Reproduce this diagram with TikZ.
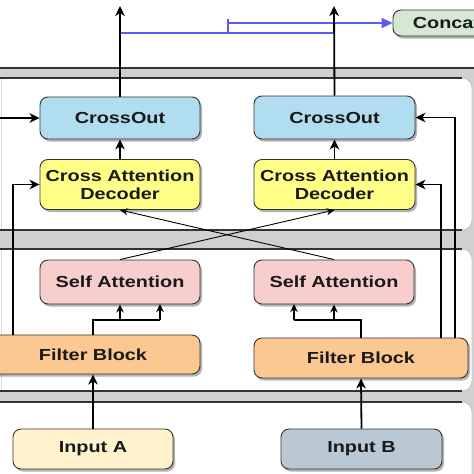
\documentclass[tikz,border=0pt]{standalone}
\usepackage{fontspec}
\setmainfont{Liberation Sans}
\usetikzlibrary{arrows.meta,shadows}
\definecolor{bandgray}{HTML}{D0D0D0}
\definecolor{edge}{HTML}{333333}
\definecolor{blueline}{HTML}{5C5CF0}
\definecolor{cblue}{HTML}{B1DDF0}
\definecolor{cyellow}{HTML}{FFFF88}
\definecolor{cpink}{HTML}{F8CECC}
\definecolor{corange}{HTML}{FCC892}
\definecolor{cinA}{HTML}{FFF2CC}
\definecolor{cinB}{HTML}{BAC8D3}
\definecolor{cgreen}{HTML}{D5E8D4}
\newcommand\wtxt[1]{\scalebox{1.24}[1]{#1}}
\begin{document}
\begin{tikzpicture}[x=1pt,y=-1pt,
  box/.style={draw=edge, line width=0.9pt, rounded corners=8pt, inner sep=0pt,
    font=\fontsize{16}{18}\selectfont\bfseries, align=center, text=black!90,
    drop shadow={shadow xshift=2pt, shadow yshift=-2.5pt, opacity=0.3, fill=black}},
  arr/.style={line width=1.8pt, -{Stealth[length=10pt,width=9.5pt,inset=3pt]}},
  thinarr/.style={line width=1.3pt, -{Stealth[length=8pt,width=7.5pt,inset=2.5pt]}},
  crossarr/.style={line width=0.9pt, -{Stealth[length=8pt,width=7pt,inset=2.5pt]}},
  blue/.style={draw=blueline, line width=2pt},
  panel/.style={fill=white, draw=gray!45, line width=0.8pt, rounded corners=10pt},
  bandline/.style={draw=edge, line width=1.2pt}]
\useasboundingbox (0,0) rectangle (474,474);
\clip (0,0) rectangle (474,474);
% background panels
\fill[bandgray] (-5,68) rectangle (480,480);
\draw[panel] (-12,78) rectangle (472,230);
\draw[panel] (-12,249) rectangle (472,391);
\draw[panel] (-12,402) rectangle (472,500);
\draw[gray!30, line width=1.5pt] (1.5,78) -- (1.5,230) (1.5,249) -- (1.5,391);
\draw[bandline] (-5,68) -- (480,68);
\draw[bandline] (-5,78) -- (462,78);
\draw[bandline] (-5,230) -- (462,230);
\draw[bandline] (-5,249) -- (462,249);
\draw[bandline] (-5,391) -- (462,391);
\draw[bandline] (-5,402) -- (462,402);
% nodes
\node[box, fill=cblue, minimum width=160pt, minimum height=42pt] (co1) at (120,118) {\wtxt{CrossOut}};
\node[box, fill=cblue, minimum width=161pt, minimum height=43pt] (co2) at (334.5,117.5) {\wtxt{CrossOut}};
\node[box, fill=cyellow, minimum width=160pt, minimum height=50pt] (cad1) at (120,184.5) {\wtxt{Cross Attention}\\\wtxt{Decoder}};
\node[box, fill=cyellow, minimum width=161pt, minimum height=50pt] (cad2) at (334.5,184.5) {\wtxt{Cross Attention}\\\wtxt{Decoder}};
\node[box, fill=cpink, minimum width=160pt, minimum height=44pt] (sa1) at (120,282) {\wtxt{Self Attention}};
\node[box, fill=cpink, minimum width=160pt, minimum height=44pt] (sa2) at (334,282) {\wtxt{Self Attention}};
\node[box, fill=corange, minimum width=214pt, minimum height=39pt] (fb1) at (93,354.5) {\wtxt{Filter Block}};
\node[box, fill=corange, minimum width=214pt, minimum height=40pt] (fb2) at (361,358) {\wtxt{Filter Block}};
\node[box, fill=cinA, minimum width=160pt, minimum height=40pt] (ia) at (93,449) {\wtxt{Input A}};
\node[box, fill=cinB, minimum width=161pt, minimum height=40pt] (ib) at (361.5,449) {\wtxt{Input B}};
\node[box, fill=cgreen, minimum width=107pt, minimum height=26pt] (cc) at (446.5,23) {\wtxt{Concat}};
% coordinates
\coordinate (t1) at (120,6);
\coordinate (t2) at (334,6);
\coordinate (b1) at (120,33);
\coordinate (b2) at (334,33);
\coordinate (bm) at (228,33);
\coordinate (bt) at (228,19);
\coordinate (bh) at (228,23);
\coordinate (l0) at (-5,118);
\coordinate (l1) at (13,335);
\coordinate (r1) at (441,338);
\coordinate (r2) at (455,338);
\coordinate (j1) at (93,320);
\coordinate (j1a) at (120,320);
\coordinate (j1b) at (160,320);
\coordinate (s1b) at (160,304);
\coordinate (j2) at (361,320);
\coordinate (j2a) at (334,320);
\coordinate (j2b) at (294,320);
\coordinate (s2b) at (294,304);
% blue concat connector
\draw[blue] (b1) -- (b2);
\draw[blue] (bm) -- (bt);
\draw[blue, -{Triangle[length=11pt,width=10pt]}] (bh) -- (cc.west);
% vertical flow
\draw[arr] (co1.north) -- (t1);
\draw[arr] (co2.north) -- (t2);
\draw[arr] (cad1.north) -- (co1.south);
\draw[arr] (cad2.north) -- (co2.south);
\draw[arr] (ia.north) -- (fb1.south);
\draw[arr] (ib.north) -- (fb2.south);
% side feeds
\draw[arr] (l0) -- (co1.west);
\draw[arr] (l1) |- (cad1.west);
\draw[arr] (r1) |- (cad2.east);
\draw[arr] (r2) |- (co2.east);
% filter to self attention
\draw[line width=1.3pt] (fb1.north) -- (j1) -- (j1b);
\draw[thinarr] (j1a) -- (sa1.south);
\draw[thinarr] (j1b) -- (s1b);
\draw[line width=1.3pt] (fb2.north) -- (j2) -- (j2b);
\draw[thinarr] (j2a) -- (sa2.south);
\draw[thinarr] (j2b) -- (s2b);
% cross connections
\draw[crossarr] (sa1.north) -- (cad2.south);
\draw[crossarr] (sa2.north) -- (cad1.south);
\end{tikzpicture}
\end{document}
